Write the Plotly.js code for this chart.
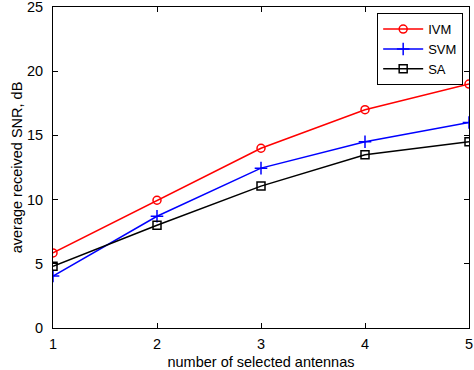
<!DOCTYPE html>
<html><head><meta charset="utf-8">
<script src="https://cdn.plot.ly/plotly-3.0.1.min.js"></script>
<style>html,body{margin:0;padding:0;background:#fff}#chart{width:474px;height:370px}</style>
</head><body><div id="chart"></div>
<script>
var antennas = [1, 2, 3, 4, 5];
var ivm = [5.85, 9.95, 14.0, 17.0, 19.0];
var svm = [4.05, 8.7, 12.45, 14.5, 16.0];
var sa  = [4.8, 8.0, 11.05, 13.5, 14.5];
var xTicks = [1, 2, 3, 4, 5];
var yTicks = [0, 5, 10, 15, 20, 25];

var font = {family: 'Liberation Sans, Arial, sans-serif', size: 14.5, color: '#000'};
var legendFont = {family: 'Liberation Sans, Arial, sans-serif', size: 13, color: '#000'};
var traces = [
  {x: antennas, y: ivm, name: 'IVM', mode: 'lines+markers',
   line: {color: '#ff0000', width: 1.5},
   marker: {symbol: 'circle-open', size: 8, color: '#ff0000', line: {width: 1.5, color: '#ff0000'}}},
  {x: antennas, y: svm, name: 'SVM', mode: 'lines+markers',
   line: {color: '#0000ff', width: 1.5},
   marker: {symbol: 'cross-thin-open', size: 9, color: '#0000ff', line: {width: 1.5, color: '#0000ff'}}},
  {x: antennas, y: sa, name: 'SA', mode: 'lines+markers',
   line: {color: '#000000', width: 1.5},
   marker: {symbol: 'square-open', size: 8, color: '#000000', line: {width: 1.5, color: '#000000'}}}
];
var axisCommon = {showgrid: false, zeroline: false, showline: true, linecolor: '#000', linewidth: 1,
  mirror: 'ticks', ticks: 'inside', ticklen: 5, tickcolor: '#000', tickfont: font,
  ticklabeloverflow: 'allow'};
var layout = {
  width: 474, height: 370,
  margin: {l: 53, r: 5, t: 7, b: 42},
  paper_bgcolor: '#fff', plot_bgcolor: '#fff',
  font: font,
  showlegend: true,
  legend: {x: 0.986, xanchor: 'right', y: 0.981, yanchor: 'top',
    bordercolor: '#000', borderwidth: 1, bgcolor: '#fff', font: legendFont,
    tracegroupgap: 0, itemwidth: 40},
  xaxis: Object.assign({}, axisCommon, {range: [1, 5], tickvals: xTicks, ticklabelstandoff: 3,
    title: {text: 'number of selected antennas', font: font, standoff: 12}}),
  yaxis: Object.assign({}, axisCommon, {range: [0, 25], tickvals: yTicks, ticklabelstandoff: 6,
    title: {text: 'average received SNR, dB', font: font, standoff: 0}})
};
Plotly.newPlot('chart', traces, layout, {displayModeBar: false, staticPlot: true});
</script></body></html>
